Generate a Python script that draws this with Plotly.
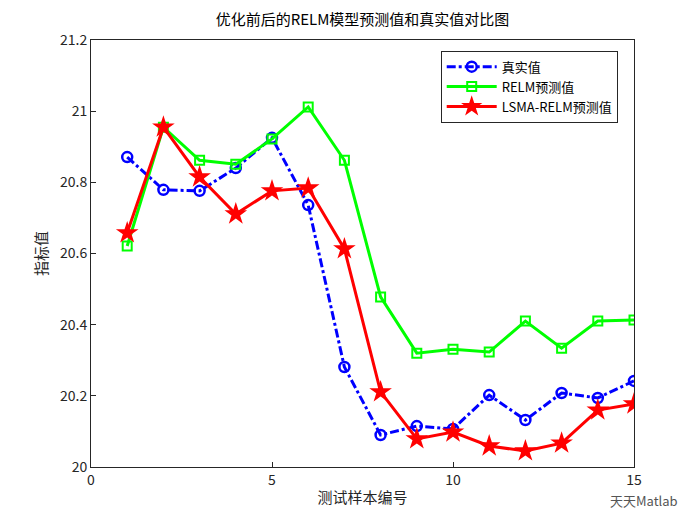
import plotly.graph_objects as go

x = list(range(1, 16))
true_vals = [20.871, 20.779, 20.776, 20.84, 20.925, 20.736, 20.281, 20.09, 20.115, 20.107, 20.202, 20.132, 20.208, 20.194, 20.242]
relm_vals = [20.621, 20.955, 20.862, 20.851, 20.922, 21.012, 20.862, 20.478, 20.32, 20.331, 20.323, 20.41, 20.334, 20.41, 20.413]
lsma_vals = [20.658, 20.955, 20.815, 20.711, 20.776, 20.784, 20.613, 20.211, 20.079, 20.098, 20.059, 20.045, 20.067, 20.16, 20.177]
names = ["真实值", "RELM预测值", "LSMA-RELM预测值"]

fig = go.Figure()
fig.add_trace(go.Scatter(x=x, y=true_vals, name=names[0], mode="lines+markers",
    line=dict(color="#0000ff", width=3, dash="dashdot"),
    marker=dict(symbol="circle-open", size=10, color="#0000ff", line=dict(width=2.5))))
fig.add_trace(go.Scatter(x=x, y=relm_vals, name=names[1], mode="lines+markers",
    line=dict(color="#00ff00", width=3),
    marker=dict(symbol="square-open", size=9, color="#00ff00", line=dict(width=2))))
fig.add_trace(go.Scatter(x=x, y=lsma_vals, name=names[2], mode="lines+markers",
    line=dict(color="#ff0000", width=3),
    marker=dict(symbol="star", size=17, color="#ff0000")))

axis = dict(showgrid=False, zeroline=False, mirror=True, showline=True, linecolor="#262626",
            linewidth=1, ticks="inside", ticklen=5, tickcolor="#262626",
            tickfont=dict(size=14, color="#262626"))
fig.update_layout(
    width=700, height=525, plot_bgcolor="white", paper_bgcolor="white",
    margin=dict(l=83, r=74, t=32, b=66),
    font=dict(family="Noto Sans CJK SC", color="#262626"),
    title=dict(text="优化前后的RELM模型预测值和真实值对比图", x=0.5, xref="paper", xanchor="center",
               y=0.978, yanchor="middle", font=dict(size=15, color="#000")),
    xaxis=dict(axis, range=[0, 15], tickvals=[0, 5, 10, 15],
               title=dict(text="测试样本编号", font=dict(size=15), standoff=4)),
    yaxis=dict(axis, range=[20, 21.2], tickvals=[20, 20.2, 20.4, 20.6, 20.8, 21, 21.2],
               ticktext=["20", "20.2", "20.4", "20.6", "20.8", "21", "21.2"],
               title=dict(text="指标值", font=dict(size=15), standoff=8)),
    legend=dict(x=0.97, y=0.975, xanchor="right", yanchor="top", bgcolor="white",
                bordercolor="#262626", borderwidth=1, font=dict(size=13, color="#000"),
                tracegroupgap=0, itemwidth=50),
    showlegend=True,
)
fig.add_annotation(text="天天Matlab", xref="paper", yref="paper", x=1.085, y=-0.105,
                   showarrow=False, xanchor="right", font=dict(size=13, color="#555"))
fig.write_html("out.html")
